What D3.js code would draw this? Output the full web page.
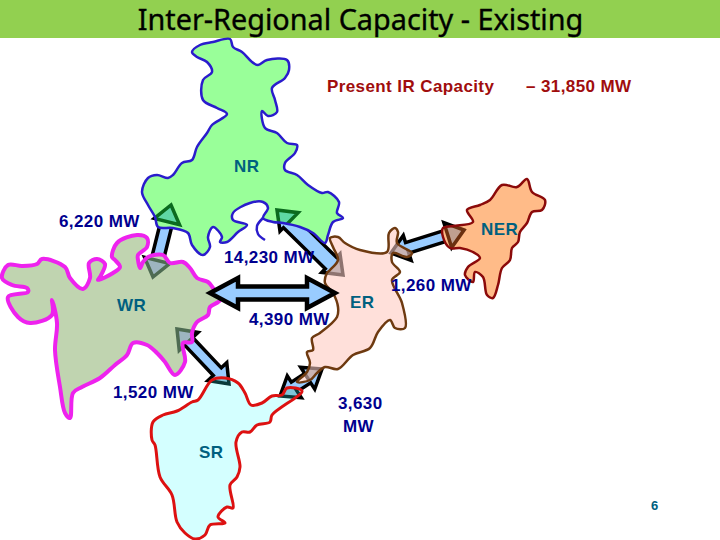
<!DOCTYPE html>
<meta charset='utf-8'>
<style>

body { margin: 0; background: #fff; }
svg { display: block; }
svg text { font: bold 17px 'Liberation Sans', sans-serif; letter-spacing: .4px; }
svg text.title { font: 28.8px 'Noto Sans', sans-serif; letter-spacing: 0; stroke: #000; stroke-width: .35px; }
.cap { fill: #00008f; }
.region-label { fill: #00607f; }
.total { fill: #a00d0d; }

</style>

<script src='https://cdnjs.cloudflare.com/ajax/libs/d3/7.8.5/d3.min.js'></script>

<body>
<script>
'use strict'

// Data - region outlines in map units

let nr_outline = [[192,52],[200,45],[213,42],[230,39],[233,47],[242,52],[252,62],[258,65],[267,60],[287,60],[289,70],[285,78],[272,88],[275,100],[277,112],[268,116],[262,111],[265,128],[277,133],[287,143],[297,145],[295,153],[285,163],[285,170],[297,175],[308,185],[322,193],[328,192],[339,202],[337,213],[343,218],[333,222],[328,235],[325,243],[313,233],[300,227],[283,223],[273,222],[263,218],[268,208],[263,202],[250,203],[233,213],[233,220],[247,225],[238,232],[227,242],[220,242],[222,237],[213,227],[208,237],[210,247],[203,255],[192,245],[188,233],[173,228],[158,227],[155,217],[148,205],[142,192],[148,178],[157,175],[168,178],[173,175],[182,163],[192,160],[197,147],[207,133],[212,125],[227,114],[217,108],[203,100],[203,80],[212,72],[207,62],[197,57]],
	nr_inlet = [[263,218],[257,226],[258,234],[265,240]],
	ner_outline = [[443,228],[453,226],[473,222],[467,210],[480,205],[490,200],[502,185],[517,187],[527,179],[532,192],[545,200],[542,210],[532,212],[527,223],[520,232],[518,242],[512,248],[510,260],[502,268],[498,285],[493,298],[487,295],[483,277],[475,272],[473,282],[465,275],[468,267],[480,258],[473,252],[460,248],[450,248],[443,237]],
	er_outline = [[330,238],[338,237],[345,243],[360,250],[387,252],[389,233],[395,228],[398,232],[397,243],[412,253],[407,257],[393,253],[392,262],[400,272],[392,280],[402,303],[405,328],[395,328],[390,320],[378,332],[370,348],[353,355],[338,369],[325,367],[317,373],[310,380],[297,382],[307,372],[310,363],[307,352],[313,350],[312,338],[320,333],[337,317],[338,307],[333,293],[325,283],[327,273],[330,270],[338,260],[333,247]],
	wr_outline = [[2,278],[8,265],[22,266],[37,264],[42,259],[65,267],[70,278],[83,289],[90,278],[89,263],[97,259],[105,264],[100,277],[98,280],[113,273],[120,267],[115,260],[112,257],[117,243],[137,235],[147,238],[147,247],[138,255],[138,260],[140,268],[143,262],[148,257],[163,255],[170,263],[183,262],[190,268],[197,278],[208,282],[213,288],[220,300],[210,307],[208,315],[197,322],[192,333],[192,342],[183,343],[185,362],[175,375],[165,362],[157,353],[147,345],[133,343],[127,355],[115,365],[100,378],[82,387],[73,393],[70,418],[65,413],[60,387],[55,350],[57,323],[52,300],[52,315],[30,323],[18,317],[8,297],[28,292],[27,288],[12,285]],
	sr_outline = [[198,400],[212,380],[225,378],[238,383],[245,393],[251,405],[262,403],[272,396],[282,395],[287,388],[302,391],[272,415],[270,422],[257,425],[250,432],[242,432],[236,442],[240,467],[237,477],[230,485],[233,508],[227,507],[218,517],[225,523],[210,525],[205,535],[195,539],[185,533],[177,522],[172,495],[160,477],[155,445],[152,440],[153,422],[163,415],[177,411],[192,402]]

// Inter-regional links, MW

let link_from = ['NR', 'NR', 'WR', 'WR', 'SR', 'ER'],
	link_to = ['WR', 'ER', 'ER', 'SR', 'ER', 'NER'],
	link_mw = [6220, 14230, 4390, 1520, 3630, 1260],
	link_from_pt = [[171,205],[277,210],[210,293],[177,329],[280,396],[391,253]],
	link_to_pt = [[153,277],[343,275],[335,293],[229,384],[322,369],[464,230]],
	total_mw = 31850

let title = 'Inter-Regional Capacity - Existing',
	total_label = 'Present IR Capacity',
	page_no = '6'


// Basic d3 boilerplate

let width = 720, height = 540,
	x = d3.scaleLinear([0, width], [0, width]),
	y = d3.scaleLinear([0, height], [0, height]),
	outline = d3.line(d => x(d[0]), d => y(d[1])).curve(d3.curveCatmullRomClosed.alpha(.5)),
	open_line = d3.line(d => x(d[0]), d => y(d[1])).curve(d3.curveCatmullRom.alpha(.5)),
	fmt = d3.format(',')

let vis = d3.select('body')
	.append('svg')
		.attr('width', width)
		.attr('height', height)

vis.append('rect').attr('width', width).attr('height', 38).attr('fill', '#92d050')
vis.append('text').attr('class', 'title')
	.attr('x', 360.5).attr('y', 30).attr('text-anchor', 'middle').text(title)

let regions = [
	{id: 'NR', pts: nr_outline, fill: '#99ff99', stroke: '#2a1ccc', sw: 2.5, head: '#0b6b1e', tint: '#5fd8a5'},
	{id: 'NER', pts: ner_outline, fill: '#ffbb88', stroke: '#8b0a0a', sw: 2.5, head: '#6b3010', tint: '#c0a090'},
	{id: 'ER', pts: er_outline, fill: '#ffe0da', stroke: '#6e3a10', sw: 2.5, head: '#8e7470', tint: '#c9b4b4'},
	{id: 'WR', pts: wr_outline, fill: '#c0d4b0', stroke: '#ee22ee', sw: 4, head: '#4e6b52', tint: '#9db5c0'},
	{id: 'SR', pts: sr_outline, fill: '#d4ffff', stroke: '#dd1111', sw: 3, head: '#0a3a3a', tint: '#7fc4d8'} ],
	region_by_id = new Map(regions.map(r => [r.id, r]))

vis.append('defs').selectAll('clipPath').data(regions).join('clipPath')
		.attr('id', d => `clip-${d.id}`)
	.append('path').attr('d', d => outline(d.pts))


// Block arrows

let links = link_mw.map((mw, i) => ({
	mw, from: link_from[i], to: link_to[i],
	a: [x(link_from_pt[i][0]), y(link_from_pt[i][1])],
	b: [x(link_to_pt[i][0]), y(link_to_pt[i][1])],
	big: mw == 4390, thick: mw == 14230, mid: mw == 6220 }))

let head_len = d => d.big ? 28 : 17,
	head_half = d => d.big ? 15 : 13,
	stem_half = d => d.big ? 6.5 : d.thick ? 8 : d.mid ? 6 : 5.5,
	axis = d => {
		let dx = d.b[0] - d.a[0], dy = d.b[1] - d.a[1], n = Math.hypot(dx, dy)
		return [dx / n, dy / n] },
	at = (p, d, along, side) => {
		let [ux, uy] = axis(d)
		return [p[0] + ux * along - uy * side, p[1] + uy * along + ux * side] },
	arrow_path = d => {
		let l = head_len(d), w = head_half(d), s = stem_half(d)
		return d3.line()([
			d.a, at(d.a, d, l, -w), at(d.a, d, l, -s), at(d.b, d, -l, -s), at(d.b, d, -l, -w),
			d.b, at(d.b, d, -l, w), at(d.b, d, -l, s), at(d.a, d, l, s), at(d.a, d, l, w) ]) + 'Z' },
	head_path = (d, tip, dir) => d3.line()([
		tip, at(tip, d, dir * head_len(d), -head_half(d)), at(tip, d, dir * head_len(d), head_half(d)) ]) + 'Z'

let draw_arrow = (g, data) => g.selectAll('path').data(data).join('path')
	.attr('d', arrow_path)
	.attr('fill', '#99ccff').attr('stroke', '#000')
	.attr('stroke-width', d => d.big ? 4.5 : 3.5).attr('stroke-linejoin', 'miter')

draw_arrow(vis.append('g').attr('class', 'arrows'), links.filter(d => !d.big))


// Regions sit on the arrows, arrow heads show through them

vis.append('g').attr('class', 'fills').selectAll('path').data(regions).join('path')
	.attr('d', d => outline(d.pts)).attr('fill', d => d.fill)

let heads = links.filter(d => !d.big).flatMap(d => [
	{d, tip: d.a, dir: 1, region: region_by_id.get(d.from)},
	{d, tip: d.b, dir: -1, region: region_by_id.get(d.to)} ])

vis.append('g').attr('class', 'heads').selectAll('path').data(heads).join('path')
	.attr('d', h => head_path(h.d, h.tip, h.dir))
	.attr('clip-path', h => `url(#clip-${h.region.id})`)
	.attr('fill', h => h.region.tint).attr('stroke', h => h.region.head).attr('stroke-width', 3.5)

vis.append('g').attr('class', 'outlines').selectAll('path').data(regions).join('path')
	.attr('d', d => outline(d.pts)).attr('fill', 'none')
	.attr('stroke', d => d.stroke).attr('stroke-width', d => d.sw).attr('stroke-linejoin', 'round')
vis.append('path').attr('d', open_line(nr_inlet)).attr('fill', 'none')
	.attr('stroke', '#2a1ccc').attr('stroke-width', 2.5).attr('stroke-linejoin', 'round')

draw_arrow(vis.append('g').attr('class', 'arrows-top'), links.filter(d => d.big))


// Labels

let text = (cls, px, py, s) => vis.append('text').attr('class', cls).attr('x', px).attr('y', py).text(s)

text('total', 327, 92, total_label)
text('total', 526, 92, `– ${fmt(total_mw)} MW`)

let cap_at = [[59, 227], [224, 263], [249, 325], [113, 398], [338, 409], [391, 291]]
links.forEach((d, i) => {
	if (d.mw == 3630) {
		text('cap', cap_at[i][0], cap_at[i][1], fmt(d.mw))
		text('cap', cap_at[i][0] + 5, cap_at[i][1] + 23, 'MW') }
	else text('cap', cap_at[i][0], cap_at[i][1], `${fmt(d.mw)} MW`) })

let region_at = {NR: [234, 172], NER: [481, 235], ER: [350, 308], WR: [117, 311], SR: [199, 458]}
regions.forEach(r => text('region-label', region_at[r.id][0], region_at[r.id][1], r.id))

text('region-label', 651, 510, page_no).style('font-size', '13px')
</script>
</body>
